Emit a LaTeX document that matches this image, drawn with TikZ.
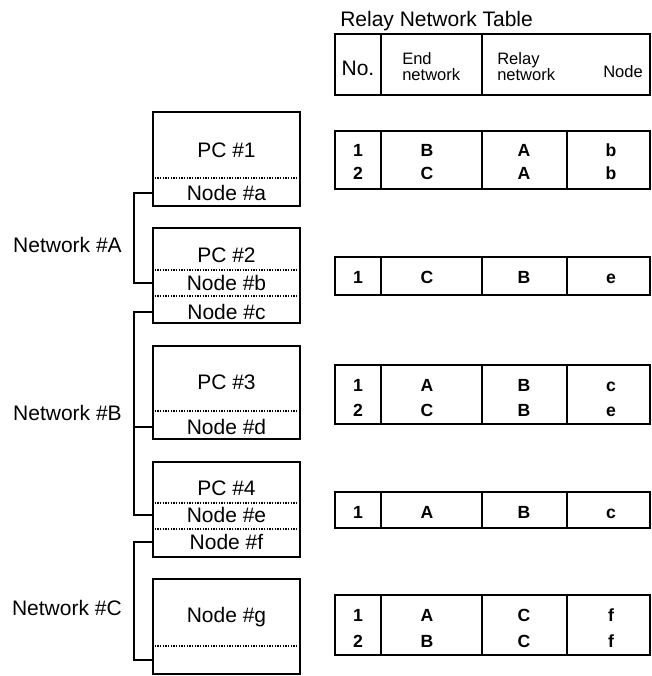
\documentclass[tikz,border=0pt]{standalone}
\usepackage{fontspec}
\setmainfont{Liberation Sans}
\usetikzlibrary{positioning,fit}
\tikzset{
  box/.style={draw,line width=1.6pt,inner sep=0pt},
  sep/.style={line width=1pt,dash pattern=on 1pt off 1pt},
  link/.style={line width=1.6pt},
  txt/.style={font=\fontsize{15.75}{18}\selectfont,inner sep=0pt,text height=11.3pt,text depth=0pt},
  hd/.style={font=\fontsize{12.4}{14}\selectfont,inner sep=0pt,text height=8.9pt,text depth=0pt},
  dat/.style={font=\fontsize{13.2}{14}\selectfont\bfseries,inner sep=0pt,text height=9.4pt,text depth=0pt},
}

\begin{document}
\begin{tikzpicture}[x=0.75pt,y=-0.75pt]
\useasboundingbox (0,0) rectangle (651,676);
% PCs and their nodes
\node[box,fit={(153,112) (300,206)}] (pc1) {};
\node[txt] (pc1t) at (226.5,150) {PC \#1};
\node[txt] (na) at (226.5,193) {Node \#a};
\draw[sep] (pc1.west |- 0,178) -- (pc1.east |- 0,178);
\node[box,fit={(153,228) (300,323)}] (pc2) {};
\node[txt] (pc2t) at (226.5,255) {PC \#2};
\node[txt] (nb) at (226.5,283) {Node \#b};
\node[txt] (nc) at (226.5,312) {Node \#c};
\draw[sep] (pc2.west |- 0,270) -- (pc2.east |- 0,270);
\draw[sep] (pc2.west |- 0,296) -- (pc2.east |- 0,296);
\node[box,fit={(153,346) (300,439)}] (pc3) {};
\node[txt] (pc3t) at (226.5,382) {PC \#3};
\node[txt] (nd) at (226.5,427) {Node \#d};
\draw[sep] (pc3.west |- 0,411) -- (pc3.east |- 0,411);
\node[box,fit={(153,462) (300,557)}] (pc4) {};
\node[txt] (pc4t) at (226.5,488) {PC \#4};
\node[txt] (ne) at (226.5,515) {Node \#e};
\node[txt] (nf) at (226.5,542) {Node \#f};
\draw[sep] (pc4.west |- 0,503) -- (pc4.east |- 0,503);
\draw[sep] (pc4.west |- 0,529) -- (pc4.east |- 0,529);
\node[box,fit={(153,579) (300,674)}] (pc5) {};
\node[txt] (ng) at (226.5,615) {Node \#g};
\draw[sep] (pc5.west |- 0,646) -- (pc5.east |- 0,646);
\coordinate (g5) at (pc5.west |- 0,660);
% networks
\node[txt,anchor=east] (netA) at (122,245) {Network \#A};
\node[txt,anchor=east] (netB) at (122,413) {Network \#B};
\node[txt,anchor=east] (netC) at (122,608) {Network \#C};
\draw[link] (na -| pc1.west) -- ++(-18,0) |- (nb -| pc2.west);
\draw[link] (nc -| pc2.west) -- ++(-18,0) |- (ne -| pc4.west);
\draw[link] (nd -| pc3.west) -- ++(-18,0);
\draw[link] (nf -| pc4.west) -- ++(-18,0) |- (g5);
% relay network table
\node[txt,anchor=west] (title) at (340,19) {Relay Network Table};
\node[box,fit={(335,34) (650,95)}] (hdr) {};
\foreach \x in {381,482} \draw[link] (hdr.north -| \x,0) -- (hdr.south -| \x,0);
\node[txt] (hno) at (358,68) {No.};
\node[hd,anchor=west] (hend) at (402,59) {End};
\node[hd,anchor=west] (hendb) at (402,75) {network};
\node[hd,anchor=west] (hrel) at (497,59) {Relay};
\node[hd,anchor=west] (hrelb) at (497,75) {network};
\node[hd,anchor=west] (hnode) at (603,72) {Node};
\foreach \n/\t/\b in {t1/131/189,t2/257/295,t3/365/424,t4/492/528,t5/595/655}{
  \node[box,fit={(335,\t) (650,\b)}] (\n) {};
  \foreach \x in {381,482,567} \draw[link] (\n.north -| \x,0) -- (\n.south -| \x,0);
}
\foreach \y/\a/\b/\c/\d in {150/1/B/A/b,173/2/C/A/b,277/1/C/B/e,385/1/A/B/c,410/2/C/B/e,512/1/A/B/c,615/1/A/C/f,641/2/B/C/f}{
  \node[dat] (r\y no) at (358,\y) {\a};
  \node[dat] (r\y end) at (427,\y) {\b};
  \node[dat] (r\y rel) at (524,\y) {\c};
  \node[dat] (r\y nd) at (611,\y) {\d};
}
\end{tikzpicture}
\end{document}
